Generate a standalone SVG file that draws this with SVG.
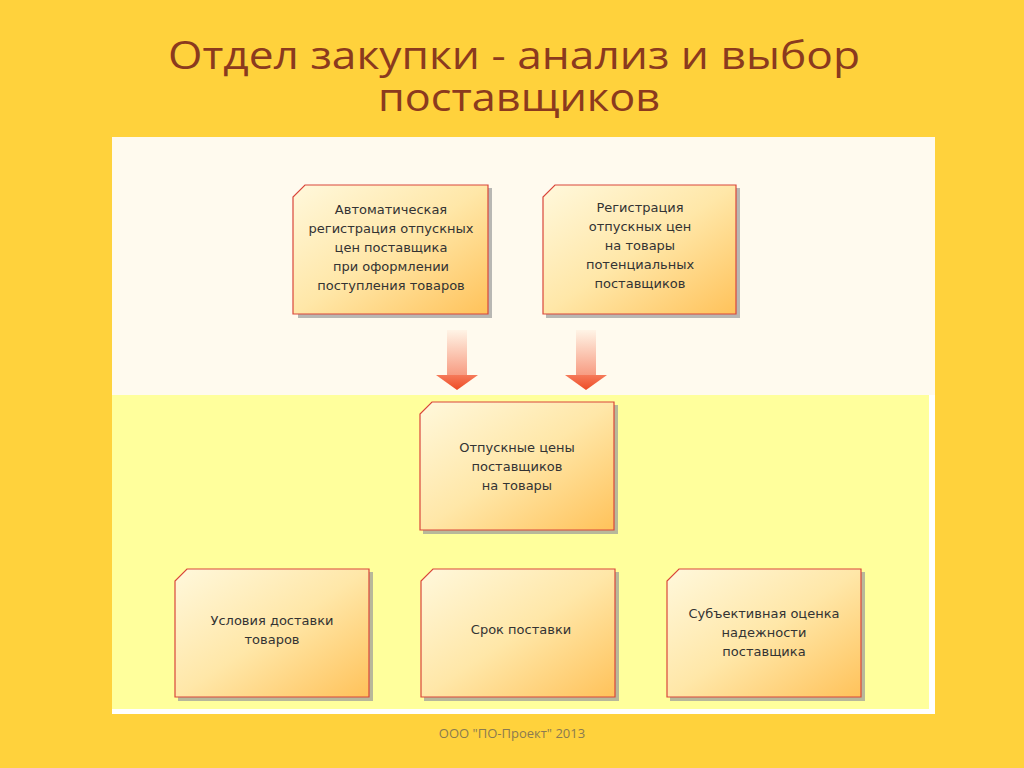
<svg xmlns="http://www.w3.org/2000/svg" width="1024" height="768" viewBox="0 0 1024 768">
<defs>
<linearGradient id="bg" x1="0" y1="0" x2="1" y2="1"><stop offset="0" stop-color="#FFF8DC"/><stop offset="0.5" stop-color="#FFE7A8"/><stop offset="1" stop-color="#FFC25A"/></linearGradient>
<linearGradient id="sh" x1="0" y1="0" x2="0" y2="1"><stop offset="0" stop-color="#FFF4E6"/><stop offset="1" stop-color="#F79A80"/></linearGradient>
<linearGradient id="hd" x1="0" y1="0" x2="0" y2="1"><stop offset="0" stop-color="#F57A5A"/><stop offset="1" stop-color="#EE4B25"/></linearGradient>
</defs>
<style>
.n{fill:url(#bg);stroke:#D9463A;stroke-width:1.2}
.s{fill:#9A9A9A;opacity:.7}
.t{font-family:"DejaVu Sans",sans-serif;font-size:13px;fill:#333;text-anchor:middle}
</style>
<rect width="1024" height="768" fill="#FFD23C"/>
<text x="168" y="69" font-family="'Open Sans','Liberation Sans',sans-serif" font-size="38" fill="#8B3A1E" textLength="692" lengthAdjust="spacingAndGlyphs">Отдел закупки - анализ и выбор</text>
<text x="378" y="111" font-family="'Open Sans','Liberation Sans',sans-serif" font-size="38" fill="#8B3A1E" textLength="282" lengthAdjust="spacingAndGlyphs">поставщиков</text>
<rect x="112" y="137" width="823" height="258" fill="#FFFAEE"/>
<rect x="112" y="395" width="823" height="319" fill="#FFFFFF"/>
<rect x="112" y="395" width="817" height="314" fill="#FFFF9C"/>
<g id="n1"><path class="s" d="M305 188h187v130h-194v-118z"/><path class="n" d="M305 185h183v129h-195v-117z"/>
<text class="t"><tspan x="391" y="214">Автоматическая</tspan><tspan x="391" y="233">регистрация отпускных</tspan><tspan x="391" y="252">цен поставщика</tspan><tspan x="391" y="271">при оформлении</tspan><tspan x="391" y="290">поступления товаров</tspan></text></g>
<g id="n2"><path class="s" d="M555 188h185v130h-194v-118z"/><path class="n" d="M555 185h181v129h-193v-117z"/>
<text class="t"><tspan x="640" y="212">Регистрация</tspan><tspan x="640" y="231">отпускных цен</tspan><tspan x="640" y="250">на товары</tspan><tspan x="640" y="269">потенциальных</tspan><tspan x="640" y="288">поставщиков</tspan></text></g>
<g id="n3"><path class="s" d="M432 405h186v129h-195v-117z"/><path class="n" d="M432 402h182v128h-194v-116z"/>
<text class="t"><tspan x="517" y="452">Отпускные цены</tspan><tspan x="517" y="471">поставщиков</tspan><tspan x="517" y="490">на товары</tspan></text></g>
<g id="n4"><path class="s" d="M187 572h186v129h-195v-117z"/><path class="n" d="M187 569h182v128h-194v-116z"/>
<text class="t"><tspan x="272" y="625">Условия доставки</tspan><tspan x="272" y="644">товаров</tspan></text></g>
<g id="n5"><path class="s" d="M433 572h186v129h-195v-117z"/><path class="n" d="M433 569h182v128h-194v-116z"/>
<text class="t"><tspan x="521" y="634">Срок поставки</tspan></text></g>
<g id="n6"><path class="s" d="M679 572h186v129h-195v-117z"/><path class="n" d="M679 569h182v128h-194v-116z"/>
<text class="t"><tspan x="764" y="618">Субъективная оценка</tspan><tspan x="764" y="637">надежности</tspan><tspan x="764" y="656">поставщика</tspan></text></g>
<g id="connectors">
<rect x="447" y="330" width="20" height="46" fill="url(#sh)"/><path d="M436 375h42l-21 15z" fill="url(#hd)"/>
<rect x="576" y="330" width="20" height="46" fill="url(#sh)"/><path d="M565 375h42l-21 15z" fill="url(#hd)"/>
</g>
<text x="512" y="738" font-family="'Open Sans','Liberation Sans',sans-serif" font-size="13" fill="#8B7A50" text-anchor="middle">ООО "ПО-Проект" 2013</text>
</svg>
